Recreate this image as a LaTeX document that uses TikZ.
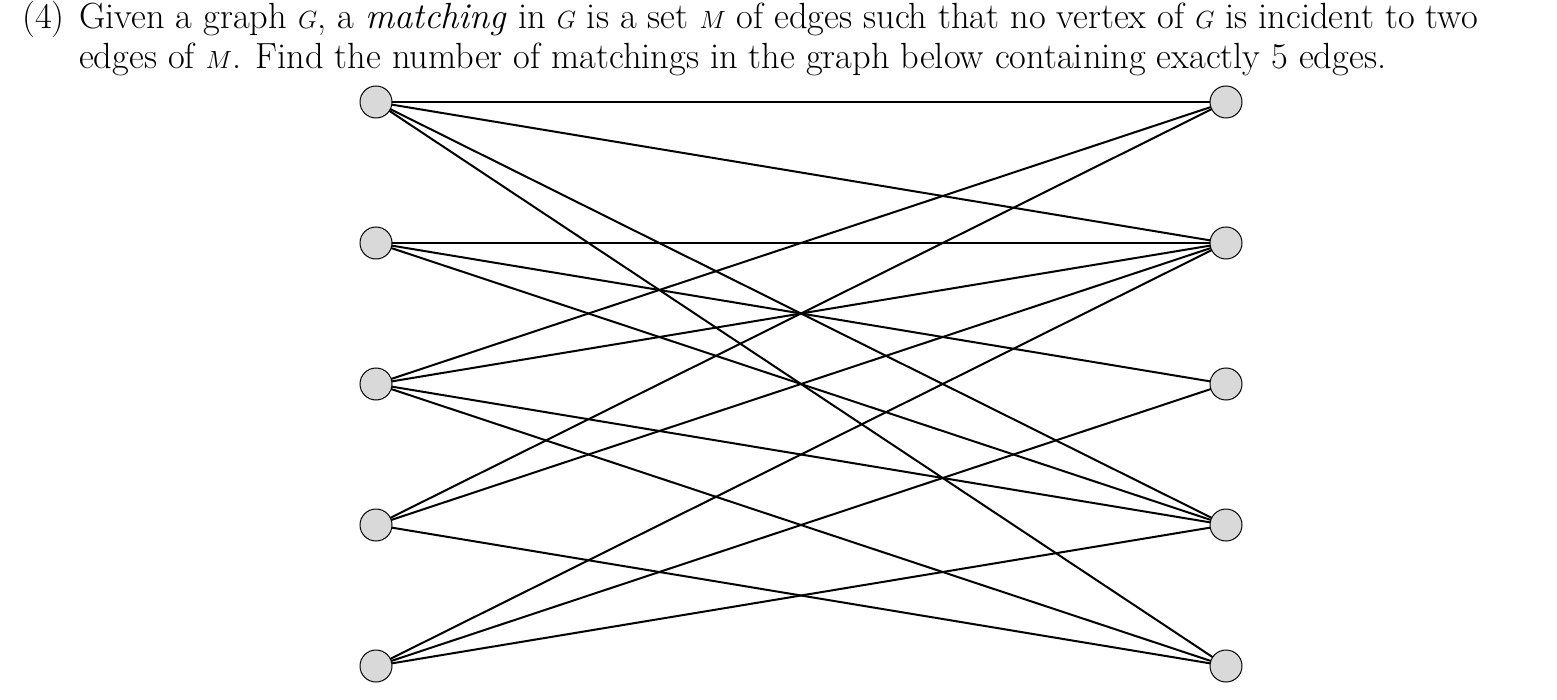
\documentclass[tikz,border=0pt]{standalone}
\begin{document}
\begin{tikzpicture}[x=1pt,y=-1pt,
  vtx/.style={circle,draw,fill=gray!30,minimum size=32pt,inner sep=0pt,line width=1pt},
  edge/.style={line width=2pt},
  txt/.style={anchor=base west,inner sep=0pt,font=\fontsize{36.4}{44}\selectfont}]
\useasboundingbox (0,0) rectangle (1557,700);
\node[txt] (t0) at (22,29) {(4)};
\node[txt] (t1) at (79,29) {Given a graph $G$, a \textit{matching} in $G$ is a set $M$ of edges such that no vertex of $G$ is incident to two};
\node[txt] (t2) at (79,69) {edges of $M$. Find the number of matchings in the graph below containing exactly 5 edges.};
\foreach \i/\y in {1/102,2/243,3/384,4/525,5/666}{
  \coordinate (cl\i) at (376,\y);
  \coordinate (cr\i) at (1226,\y);
}
\foreach \a/\b in {1/1,1/2,1/4,1/5,2/2,2/3,2/4,3/1,3/2,3/4,3/5,4/1,4/2,4/5,5/2,5/3,5/4}
  \draw[edge] (cl\a) -- (cr\b);
\foreach \i in {1,...,5}{
  \node[vtx] (l\i) at (cl\i) {};
  \node[vtx] (r\i) at (cr\i) {};
}
\end{tikzpicture}
\end{document}
